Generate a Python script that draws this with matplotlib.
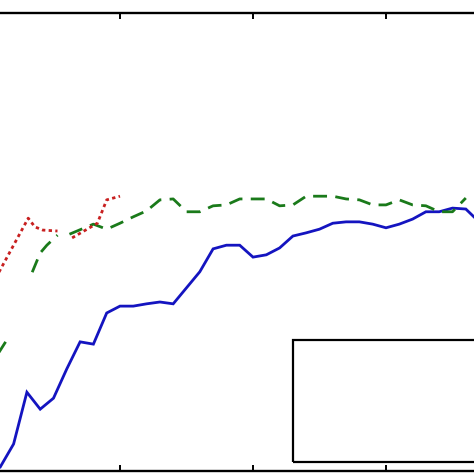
import matplotlib
matplotlib.use("Agg")
import matplotlib.pyplot as plt
import matplotlib.patches as patches
import numpy as np

# solid blue series
blue_x = [0.1, 0.2, 0.3, 0.4, 0.5, 0.6, 0.7, 0.8, 0.9, 1.0,
          1.1, 1.2, 1.3, 1.4, 1.5, 1.6, 1.7, 1.8, 1.9, 2.0,
          2.1, 2.2, 2.3, 2.4, 2.5, 2.6, 2.7, 2.8, 2.9, 3.0,
          3.1, 3.2, 3.3, 3.4, 3.5, 3.6, 3.7]
blue_y = [0.009, 0.059, 0.172, 0.135, 0.159, 0.223, 0.282, 0.277, 0.345, 0.360,
          0.360, 0.365, 0.369, 0.365, 0.400, 0.435, 0.485, 0.493, 0.493, 0.467,
          0.472, 0.487, 0.513, 0.520, 0.528, 0.541, 0.544, 0.544, 0.539, 0.531,
          0.539, 0.550, 0.566, 0.566, 0.574, 0.572, 0.544]

# dashed green series (gaps are missing values)
green_x = [0.0, 0.14, np.nan,
           0.34, 0.40, 0.45, 0.53, np.nan,
           0.62, 0.8, 0.9, 1.0, 1.1, 1.2, 1.3, 1.4, 1.5, 1.6, 1.7, 1.8,
           1.9, 2.0, 2.1, 2.2, 2.3, 2.4, 2.5, 2.6, 2.7, 2.8, 2.9, 3.0,
           3.1, 3.2, 3.3, 3.4, 3.5, 3.6]
green_y = [0.218, 0.282, np.nan,
           0.434, 0.476, 0.493, 0.515, np.nan,
           0.517, 0.539, 0.528, 0.541, 0.555, 0.568, 0.592, 0.594, 0.566, 0.566, 0.579, 0.581,
           0.594, 0.594, 0.594, 0.579, 0.581, 0.600, 0.600, 0.600, 0.594, 0.592, 0.581, 0.581,
           0.592, 0.581, 0.579, 0.566, 0.566, 0.596]

# dotted red series
red_x = [0.0, 0.31, 0.36, 0.42, 0.53, np.nan, 0.64, 0.83, 0.9, 1.0]
red_y = [0.386, 0.552, 0.533, 0.526, 0.524, np.nan, 0.509, 0.541, 0.592, 0.600]

fig = plt.figure(figsize=(4.74, 4.74), dpi=100)
ax = fig.add_axes([-13/474, 3/474, 532/474, 458/474])

ax.plot(blue_x, blue_y, color='#1414c0', lw=2.0, solid_joinstyle='miter')
ax.plot(green_x, green_y, color='#1a7a1a', lw=2.0, dashes=(5, 3))
ax.plot(red_x, red_y, color='#c82020', lw=2.0, dashes=(1.2, 1.2))

ax.set_xlim(0, 4)
ax.set_ylim(0, 1)
ax.set_xticks([1, 2, 3])
ax.set_yticks([])
ax.tick_params(axis='x', direction='in', length=4, width=1.4,
               top=True, bottom=True, labelbottom=False)
for s in ax.spines.values():
    s.set_linewidth(1.7)

# empty legend frame
ax.add_patch(patches.Rectangle((0.575, 0.02), 0.5, 0.266, transform=ax.transAxes,
                               fill=False, edgecolor='black', lw=1.6, clip_on=True))

fig.savefig("out.png", dpi=100)
